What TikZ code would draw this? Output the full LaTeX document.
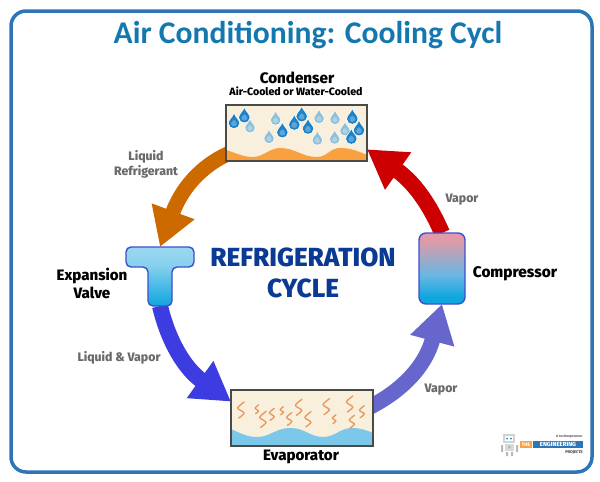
\documentclass[tikz,border=0pt]{standalone}
\usepackage{fontspec}
\setmainfont{Fira Sans}[BoldFont={Fira Sans ExtraBold}]
\newfontfamily\titlefont{Carlito}
\usetikzlibrary{arrows.meta,calc,shapes.misc}
\pgfdeclarelayer{under}
\pgfsetlayers{under,main}
\definecolor{framec}{HTML}{2E75B6}
\definecolor{titlec}{HTML}{1378B0}
\definecolor{bigc}{HTML}{0B3A94}
\definecolor{labelg}{HTML}{6A6A6A}
\definecolor{creamc}{HTML}{F8EFDC}
\definecolor{boxedge}{HTML}{4A4A46}
\definecolor{tubeedge}{HTML}{3F4FCB}
\definecolor{orangeA}{HTML}{CC6A00}
\definecolor{redA}{HTML}{CC0000}
\definecolor{blueA}{HTML}{3C3CE0}
\definecolor{purpleA}{HTML}{6666CC}
\definecolor{waveO}{HTML}{F9A03F}
\definecolor{waveB}{HTML}{7CC8EA}
\definecolor{squig}{HTML}{E8975A}
\definecolor{dropD}{HTML}{1E82C8}
\definecolor{dropL}{HTML}{8FC0D8}
\definecolor{sA}{HTML}{0FA5DF}
\definecolor{sB}{HTML}{66B7E3}
\definecolor{sC}{HTML}{E09AA8}
\definecolor{sD}{HTML}{BCE3F5}
\pgfdeclareverticalshading{compgrad}{100bp}{
 color(0bp)=(sA); color(30bp)=(sA); color(45bp)=(sB); color(70bp)=(sC); color(100bp)=(sC)}
\pgfdeclareverticalshading{valvegrad}{100bp}{
 color(0bp)=(sA); color(25bp)=(sA); color(60bp)=(sD!70!sA); color(100bp)=(sD)}
\tikzset{
 framebox/.style={draw=framec,line width=3.5pt,rounded corners=15pt},
 flow/.style={line width=#1,line cap=butt},
 tiphead/.style={-{Triangle[length=38pt,width=43pt]}},
 tank/.style={minimum width=141pt,minimum height=56pt,inner sep=0pt,outer sep=0pt,fill=creamc},
 tankline/.style={draw=boxedge,line width=1.4pt},
 tube/.style={draw=tubeedge,line width=1.4pt},
 gl/.style={font=\bfseries\fontsize{12.3}{15}\selectfont,text=labelg,align=center,inner sep=0pt},
 bl/.style={font=\bfseries\fontsize{15.1}{18}\selectfont,text=black,align=center,inner sep=0pt},
 droplet/.pic={
  \fill[white] (0,-7.6) .. controls (1.2,-4) and (5.6,-1) .. (5.6,2.2) .. controls (5.6,5.5) and (2.8,7.4) .. (0,7.4) .. controls (-2.8,7.4) and (-5.6,5.5) .. (-5.6,2.2) .. controls (-5.6,-1) and (-1.2,-4) .. (0,-7.6) -- cycle;
  \fill[#1] (0,-6.8) .. controls (1,-3.5) and (5,-1) .. (5,2.2) .. controls (5,5) and (2.6,6.8) .. (0,6.8) .. controls (-2.6,6.8) and (-5,5) .. (-5,2.2) .. controls (-5,-1) and (-1,-3.5) .. (0,-6.8) -- cycle;
  \fill[#1!72!white] (0,-1) .. controls (1.5,0) and (2.8,1) .. (2.8,2.6) .. controls (2.8,4.2) and (1.4,5) .. (0,5) .. controls (-1.4,5) and (-2.8,4.2) .. (-2.8,2.6) .. controls (-2.8,1) and (-1.5,0) .. (0,-1) -- cycle;
 },
 squiggle/.pic={
  \draw[squig,line width=1.3pt,line cap=round,line join=round] plot[smooth,tension=.45] coordinates {(3.5,-8) (-3,-2) (3.5,3) (-2,8)};
 },
}
\begin{document}
\begin{tikzpicture}[x=1pt,y=-1pt]
\useasboundingbox (0,0) rectangle (600,482);
\draw[framebox] (11,11) rectangle (592,472);
\node[font=\titlefont\bfseries\fontsize{31.6}{36}\selectfont,text=titlec,inner sep=0pt] (title) at (308,35) {Air Conditioning: Cooling Cycl};

% equipment
\node[tank] (cond) at (296.5,133) {};
\fill[waveO] (226,150) .. controls (236,153) and (243,157) .. (253,157) .. controls (263,157) and (270,148) .. (280,148) .. controls (295,148) and (302,157) .. (317,157) .. controls (327,157) and (330,148) .. (340,148) .. controls (350,148) and (358,151) .. (367,155) -- (367,161) -- (226,161) -- cycle;
\foreach \a/\b in {150/198,207/230,357/170,405/173,435/207,352/235,404/232,227/175}
  \pic[scale=.95] at ({200+\a/3},{60+\b/3}) {droplet=dropL};
\foreach \a/\b in {102/183,133/166,305/163,283/188,457/170,477/205,454/230,324/200,247/211}
  \pic[scale=1.05] at ({200+\a/3},{60+\b/3}) {droplet=dropD};
\draw[tankline] (cond.south west) rectangle (cond.north east);

\node[tank,minimum width=142pt] (evap) at (302,418) {};
\fill[waveB] (231,429) .. controls (240,433) and (247,437) .. (257,437) .. controls (270,437) and (276,428) .. (290,428) .. controls (305,428) and (310,437) .. (323,437) .. controls (335,437) and (340,428) .. (352,428) .. controls (360,428) and (366,430) .. (373,433) -- (373,446) -- (231,446) -- cycle;
\foreach \a/\b/\s in {62/90/1,110/88/.55,128/118/1,155/103/.75,185/92/.5,207/117/.8,235/82/1,263/118/.95,318/80/1,342/118/.55,388/72/1,395/125/.8,425/95/.75}
  \pic[scale=\s] at ({220+\a/3},{380+\b/3}) {squiggle};
\draw[tankline] (evap.south west) rectangle (evap.north east);

\node[shade,shading=compgrad,tube,rounded corners=7pt,minimum width=46pt,minimum height=71pt,inner sep=0pt,outer sep=0pt] (comp) at (442,268.5) {};

\node[minimum width=68pt,minimum height=59pt,inner sep=0pt,outer sep=0pt] (valve) at (160,276.5) {};
\shade[shading=valvegrad,tube,rounded corners=5pt] (valve.north west) -- (valve.north east) -- (194,267) -- (172,267) -- (172,306) -- (148,306) -- (148,267) -- (126,267) -- cycle;

% flows
\begin{pgfonlayer}{under}
\draw[flow=15pt,orangeA,tiphead,shorten <=-6pt] (cond.197) .. controls (208,162) and (184,182) .. (valve.north);
\draw[flow=16pt,redA,tiphead] (comp.north) .. controls (433,212) and (418,185) .. (cond.-13);
\draw[flow=16pt,blueA,tiphead] (valve.south) .. controls (168,340) and (184,368) .. (evap.167);
\draw[flow=15.5pt,purpleA,tiphead,shorten <=-6pt] (evap.10) .. controls (400,392) and (425,368) .. (comp.south);
\end{pgfonlayer}

% labels
\node[font=\bfseries\fontsize{15.2}{18}\selectfont,inner sep=0pt] (condlabel) at (297,78) {Condenser};
\node[font=\bfseries\fontsize{10.6}{12}\selectfont,inner sep=0pt] (condsub) at (296,91.5) {Air-Cooled or Water-Cooled};
\node[bl] (evaplabel) at (301,457) {Evaporator};
\node[bl,font=\bfseries\fontsize{15.4}{18}\selectfont] (complabel) at (515,274) {Compressor};
\node[bl] (valvelabel) at (92,283) {Expansion\\Valve};
\node[gl] (l1) at (146,164.5) {Liquid\\Refrigerant};
\node[gl] (l2) at (462,200) {Vapor};
\node[gl] (l3) at (119,358) {Liquid \& Vapor};
\node[gl] (l4) at (441,390) {Vapor};
\node[font=\bfseries\fontsize{26.2}{31}\selectfont,text=bigc,align=center,inner sep=0pt] (cycle) at (303,272.5) {REFRIGERATION\\CYCLE};

% logo
\fill[gray!35] (503,434) rectangle (515,443);
\fill[white] (505,436) rectangle (513,441);
\fill[dropD] (507,438.5) circle (1pt) (511,438.5) circle (1pt);
\fill[gray!30] (505,444) rectangle (514,451);
\fill[dropL] (509.5,447) circle (1.5pt);
\fill[gray!55] (501,445) rectangle (503,452) (516,445) rectangle (518,452) (506,452) rectangle (508,456) (511,452) rectangle (513,456);
\node[fill=waveO,text=white,font=\bfseries\fontsize{5}{6}\selectfont,minimum width=12pt,minimum height=7.5pt,inner sep=0pt] (lthe) at (526,444.5) {THE};
\node[fill=framec,text=white,font=\bfseries\fontsize{6}{7}\selectfont,minimum width=50pt,minimum height=7.5pt,inner sep=0pt] (leng) at (558,444.5) {ENGINEERING};
\node[anchor=east,font=\bfseries\fontsize{3.5}{4}\selectfont,text=labelg,inner sep=0pt] (ltop) at (583,437) {A technopreneur};
\node[anchor=east,font=\bfseries\fontsize{4}{5}\selectfont,text=black!70,inner sep=0pt] (lproj) at (583,452) {PROJECTS};
\end{tikzpicture}
\end{document}
